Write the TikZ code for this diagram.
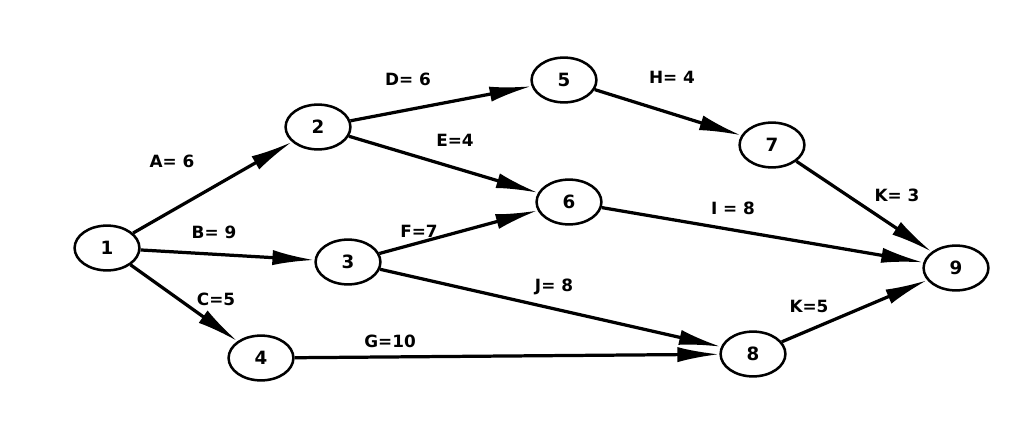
\documentclass[tikz,border=0pt]{standalone}
\usepackage{fontspec}
\setmainfont{DejaVu Sans}
\usetikzlibrary{arrows.meta,shapes.geometric,backgrounds}

\begin{document}
\begin{tikzpicture}[%
    x=0.025cm, y=-0.025cm,%
    show background rectangle,%
    tight background,%
    background rectangle/.style={fill=white}%
  ]
  \tikzset{%
    event/.style={draw=black, line width=1.8pt, ellipse, inner sep=0pt,%
      minimum width=1.62cm, minimum height=1.12cm,%
      font=\bfseries\fontsize{13}{15}\selectfont},%
    activity/.style={draw=black, line width=2.3pt,%
      -{Latex[length=1.05cm, width=0.38cm]}},%
    duration/.style={font=\bfseries\fontsize{12}{14}\selectfont, inner sep=1pt}%
  }%
  \useasboundingbox (0,0) rectangle (1028,441);%

  %
  % Events
  %
  \foreach \n/\x/\y in {1/107/248, 2/318/127, 3/348/262, 4/261/358,%
      5/564/80, 6/569/202, 7/772/145, 8/753/354, 9/956/268} {%
      \node[event] (event \n) at (\x,\y) {\n};%
    }%

  %
  % Activities
  %
  \foreach \s/\t/\l/\x/\y in {1/2/{A= 6}/172/161, 1/3/{B= 9}/214/232,%
      1/4/{C=5}/216/299, 2/5/{D= 6}/408/79, 2/6/{E=4}/455/140,%
      3/6/{F=7}/419/231, 4/8/{G=10}/390/341, 5/7/{H= 4}/672/77,%
      6/9/{I = 8}/733/208, 3/8/{J= 8}/554/287, 7/9/{K= 3}/897/195,%
      8/9/{K=5}/809/306} {%
      \draw[activity] (event \s) -- (event \t);%
      \node[duration] (duration \s\t) at (\x,\y) {\l};%
    }%
\end{tikzpicture}
\end{document}
